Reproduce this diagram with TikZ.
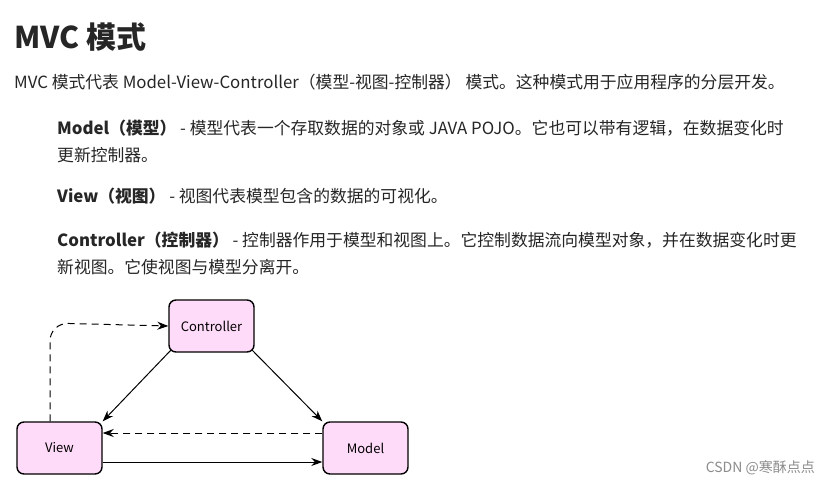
\documentclass[tikz,border=0pt]{standalone}
\usepackage{fontspec}
\setmainfont{Noto Sans CJK SC}
\usetikzlibrary{arrows.meta}
\begin{document}
\begin{tikzpicture}[x=1pt,y=-1pt,
  box/.style={draw=black,line width=1.4pt,fill=pink!40!magenta!20,rounded corners=7pt,minimum width=85pt,minimum height=52pt,font=\fontsize{13}{15}\selectfont,inner sep=0pt},
  txt/.style={anchor=west,inner sep=0pt,font=\fontsize{16.8}{19}\selectfont,text=black!85},
  arr/.style={-{Stealth[length=11pt,width=8pt]},line width=1pt},
  dsh/.style={dash pattern=on 7pt off 5pt}]
\useasboundingbox (0,0) rectangle (831,488);
\fill[white] (0,0) rectangle (831,488);
\node[txt,font=\fontsize{30}{34}\selectfont\bfseries] (title) at (14,37) {MVC 模式};
\node[txt] (t1) at (14,82) {MVC 模式代表 Model-View-Controller（模型-视图-控制器） 模式。这种模式用于应用程序的分层开发。};
\node[txt] (t2) at (57,128) {\textbf{Model（模型）} - 模型代表一个存取数据的对象或 JAVA POJO。它也可以带有逻辑，在数据变化时};
\node[txt] (t3) at (57,155) {更新控制器。};
\node[txt] (t4) at (57,196) {\textbf{View（视图）} - 视图代表模型包含的数据的可视化。};
\node[txt] (t5) at (57,240) {\textbf{Controller（控制器）} - 控制器作用于模型和视图上。它控制数据流向模型对象，并在数据变化时更};
\node[txt] (t6) at (57,267) {新视图。它使视图与模型分离开。};
\node[box] (c) at (211.5,326) {Controller};
\node[box] (v) at (59.5,448) {View};
\node[box] (m) at (365.5,448) {Model};
\draw[arr] (c.south west) ++(3,-3) -- (v.north east);
\draw[arr] (c.south east) ++(-3,-3) -- (m.north west);
\draw[arr] (v.east |- 0,462) -- (m.west |- 0,462);
\draw[arr,dsh] (m.west |- 0,433) -- (v.east |- 0,433);
\draw[arr,dsh,rounded corners=18pt] (v.north -| 50,0) -- (50,323) -- (c.west);
\node[anchor=east,inner sep=0pt,font=\fontsize{14}{16}\selectfont,text=black!45] (wm) at (815,468) {CSDN @寒酥点点};
\end{tikzpicture}
\end{document}
